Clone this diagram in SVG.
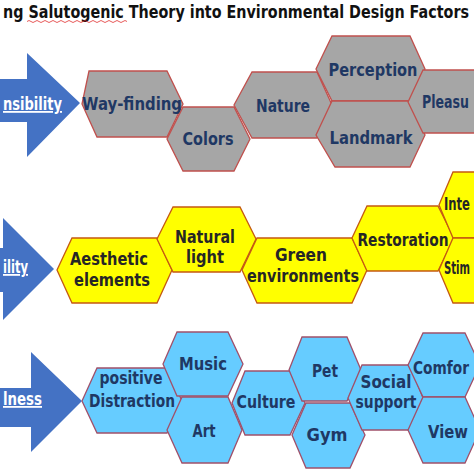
<svg xmlns="http://www.w3.org/2000/svg" width="474" height="474" viewBox="0 0 474 474">
<style>
.t{font-family:"DejaVu Sans","Liberation Sans",sans-serif;font-weight:bold}
.title{font-size:18px;fill:#111}
.arr{fill:#4472c4}
.at{font-size:18px;fill:#fff;text-decoration:underline}
.g{fill:#a6a6a6;stroke:#c0504d;stroke-width:1.3}
.y{fill:#ffff00;stroke:#c55a11;stroke-width:1.3}
.b{fill:#66ccff;stroke:#a0506a;stroke-width:1.3}
.tg{font-size:17.5px;fill:#1f3864;text-anchor:middle}
.ty{font-size:17.5px;fill:#262626;text-anchor:middle}
.tb{font-size:17.5px;fill:#1f3864;text-anchor:middle}
.tl{text-anchor:start}
</style>
<rect width="474" height="474" fill="#fff"/>
<text class="t title" x="3" y="18" textLength="466" lengthAdjust="spacingAndGlyphs">ng Salutogenic Theory into Environmental Design Factors</text>
<path d="M27,21.5 q2,-2 4,0 t4,0 t4,0 t4,0 t4,0 t4,0 t4,0 t4,0 t4,0 t4,0 t4,0 t4,0 t4,0 t4,0 t4,0 t4,0 t4,0 t4,0 t4,0 t4,0 t4,0 t4,0 t4,0 t4,0 t4,0" fill="none" stroke="#e03030" stroke-width="0.8"/>

<g id="arrow1">
<polygon class="arr" points="0,79 27,79 27,53 80,103 27,157 27,122 0,122"/>
<text class="t at" x="62" y="110" text-anchor="end" textLength="59" lengthAdjust="spacingAndGlyphs">nsibility</text>
</g>
<g id="arrow2">
<polygon class="arr" points="0,248 3,248 3,218 54,269 3,320 3,292 0,292"/>
<text class="t at" x="28" y="273" text-anchor="end" textLength="25" lengthAdjust="spacingAndGlyphs">ility</text>
</g>
<g id="arrow3">
<polygon class="arr" points="0,388 31,388 31,352 82,401 31,452 31,427 0,427"/>
<text class="t at" x="42" y="405" text-anchor="end" textLength="39" lengthAdjust="spacingAndGlyphs">lness</text>
</g>

<g id="wayfinding"><polygon class="g" points="82,104 89,71 167,71 183,104 167,137 97,137"/><text class="t tg" x="132" y="110" textLength="100" lengthAdjust="spacingAndGlyphs">Way-finding</text></g>
<g id="colors"><polygon class="g" points="167,139 183,107 234,107 250,139 234,171 183,171"/><text class="t tg" x="208" y="145" textLength="51" lengthAdjust="spacingAndGlyphs">Colors</text></g>
<g id="nature"><polygon class="g" points="234,105 252,72 317,72 332,105 317,138 252,138"/><text class="t tg" x="283" y="112" textLength="54" lengthAdjust="spacingAndGlyphs">Nature</text></g>
<g id="perception"><polygon class="g" points="316,69 332,36 410,36 425,69 410,101 332,101"/><text class="t tg" x="373" y="76" textLength="89" lengthAdjust="spacingAndGlyphs">Perception</text></g>
<g id="landmark"><polygon class="g" points="316,135 332,101 410,101 425,135 410,167 335,167"/><text class="t tg" x="371" y="144" textLength="83" lengthAdjust="spacingAndGlyphs">Landmark</text></g>
<g id="pleasure"><polygon class="g" points="408,102 423,70 490,70 505,102 490,133 423,133"/><text class="t tg tl" x="422" y="108" textLength="47" lengthAdjust="spacingAndGlyphs">Pleasu</text></g>

<g id="aesthetic"><polygon class="y" points="57,270 72,238 157,238 172,270 157,303 72,303"/><text class="t ty" x="109" y="265" textLength="78" lengthAdjust="spacingAndGlyphs">Aesthetic</text><text class="t ty" x="112" y="286" textLength="76" lengthAdjust="spacingAndGlyphs">elements</text></g>
<g id="naturallight"><polygon class="y" points="157,239 173,207 240,207 256,239 240,272 173,272"/><text class="t ty" x="205" y="243" textLength="60" lengthAdjust="spacingAndGlyphs">Natural</text><text class="t ty" x="205" y="263" textLength="38" lengthAdjust="spacingAndGlyphs">light</text></g>
<g id="green"><polygon class="y" points="242,270 257,238 352,238 367,270 352,303 257,303"/><text class="t ty" x="301" y="261" textLength="52" lengthAdjust="spacingAndGlyphs">Green</text><text class="t ty" x="303" y="282" textLength="112" lengthAdjust="spacingAndGlyphs">environments</text></g>
<g id="restoration"><polygon class="y" points="352,238 367,206 438,206 454,238 438,271 367,271"/><text class="t ty" x="403" y="246" textLength="91" lengthAdjust="spacingAndGlyphs">Restoration</text></g>
<g id="interaction"><polygon class="y" points="439,205 453,172 490,172 505,205 490,238 453,238"/><text class="t ty tl" x="444" y="210" textLength="26" lengthAdjust="spacingAndGlyphs">Inte</text></g>
<g id="stimulation"><polygon class="y" points="439,270 453,238 490,238 505,270 490,303 453,303"/><text class="t ty tl" x="444" y="274" textLength="26" lengthAdjust="spacingAndGlyphs">Stim</text></g>

<g id="distraction"><polygon class="b" points="82,401 97,368 167,368 182,401 167,433 97,433"/><text class="t tb" x="131" y="384" textLength="63" lengthAdjust="spacingAndGlyphs">positive</text><text class="t tb" x="132" y="407" textLength="86" lengthAdjust="spacingAndGlyphs">Distraction</text></g>
<g id="music"><polygon class="b" points="163,364 177,332 228,332 243,364 228,396 177,396"/><text class="t tb" x="203" y="370" textLength="48" lengthAdjust="spacingAndGlyphs">Music</text></g>
<g id="art"><polygon class="b" points="167,430 182,397 228,397 242,430 228,463 182,463"/><text class="t tb" x="204" y="437" textLength="23" lengthAdjust="spacingAndGlyphs">Art</text></g>
<g id="culture"><polygon class="b" points="232,403 245,371 290,371 305,403 290,435 245,435"/><text class="t tb" x="266" y="408" textLength="59" lengthAdjust="spacingAndGlyphs">Culture</text></g>
<g id="pet"><polygon class="b" points="289,370 302,337 347,337 361,370 347,401 302,401"/><text class="t tb" x="325" y="377" textLength="26" lengthAdjust="spacingAndGlyphs">Pet</text></g>
<g id="gym"><polygon class="b" points="292,435 306,403 350,403 365,435 350,468 306,468"/><text class="t tb" x="327" y="441" textLength="41" lengthAdjust="spacingAndGlyphs">Gym</text></g>
<g id="social"><polygon class="b" points="348,398 362,365 410,365 423,398 410,430 362,430"/><text class="t tb" x="386" y="388" textLength="51" lengthAdjust="spacingAndGlyphs">Social</text><text class="t tb" x="386" y="408" textLength="61" lengthAdjust="spacingAndGlyphs">support</text></g>
<g id="comfort"><polygon class="b" points="408,365 423,333 465,333 480,365 465,397 423,397"/><text class="t tb tl" x="413" y="374" textLength="56" lengthAdjust="spacingAndGlyphs">Comfor</text></g>
<g id="view"><polygon class="b" points="408,430 423,397 465,397 480,430 465,463 423,463"/><text class="t tb" x="448" y="438" textLength="40" lengthAdjust="spacingAndGlyphs">View</text></g>
<g id="connectors"></g>
</svg>
